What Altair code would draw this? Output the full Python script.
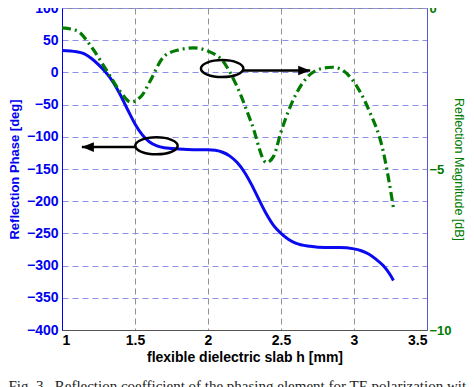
import altair as alt
import pandas as pd

# Blue: reflection phase [deg] vs h [mm]
phase_h = [1.0, 1.1, 1.15, 1.2, 1.25, 1.3, 1.35, 1.4, 1.45, 1.5, 1.55, 1.6, 1.65, 1.7, 1.8, 1.9, 2.0,
           2.05, 2.1, 2.15, 2.2, 2.25, 2.3, 2.35, 2.4, 2.45, 2.5, 2.55, 2.6, 2.7, 2.8, 2.9, 3.0,
           3.05, 3.1, 3.15, 3.2, 3.25, 3.27]
phase_deg = [34, 32, 29, 22, 12, 0, -15, -35, -58, -80, -97, -108, -114, -117, -119, -120, -120,
             -121, -124, -130, -140, -155, -175, -198, -220, -238, -250, -259, -265, -270, -272, -272, -274,
             -277, -282, -290, -300, -315, -323]

# Green: reflection magnitude [dB] vs h [mm]
mag_h = [1.0, 1.1, 1.2, 1.3, 1.4, 1.47, 1.55, 1.6, 1.7, 1.8, 1.9, 2.0, 2.1, 2.2, 2.3, 2.4, 2.45,
         2.5, 2.6, 2.7, 2.8, 2.85, 2.9, 3.0, 3.1, 3.2, 3.27]
mag_db = [-0.62, -0.7, -1.2, -1.9, -2.6, -2.92, -2.7, -2.3, -1.5, -1.3, -1.24, -1.34, -1.64, -2.45,
          -3.6, -4.8, -4.6, -3.85, -2.7, -2.06, -1.86, -1.84, -1.88, -2.3, -3.15, -4.45, -6.2]

# Annotations (data coordinates, left axis)
ellipse_h = [1.647, 2.097]
ellipse_deg = [-114, 6]
arrow_from = [1.51, 2.24]
arrow_to = [1.136, 2.70]
arrow_deg = [-116, 3]
arrow_dir = ["left", "right"]

x_ticks = [1, 1.5, 2, 2.5, 3, 3.5]
left_ticks = list(range(-400, 101, 50))
right_ticks = [-10, -5, 0]

BLUE = "#0000ee"
GREEN = "#007a00"
FONT = "Liberation Sans"

phase_df = pd.DataFrame({"h": phase_h, "deg": phase_deg})
mag_df = pd.DataFrame({"h": mag_h, "db": mag_db})
ell_df = pd.DataFrame({"h": ellipse_h, "deg": ellipse_deg})
arr_df = pd.DataFrame({"h": arrow_from, "h2": arrow_to, "deg": arrow_deg, "dir": arrow_dir})

xscale = alt.Scale(domain=[1, 3.5], nice=False)
xaxis = alt.Axis(values=x_ticks, format="~g", title="flexible dielectric slab h [mm]",
                 grid=True, gridDash=[6, 4], gridColor="#777777", gridOpacity=0.8,
                 ticks=False, labelFont=FONT, labelFontSize=14, labelFontWeight="bold",
                 labelColor="black", titleFont=FONT, titleFontSize=14, titleFontWeight="bold",
                 titleColor="black", domainColor="#555555", labelPadding=3, titlePadding=3)
yscale_left = alt.Scale(domain=[-400, 100], nice=False)
yaxis_left = alt.Axis(values=left_ticks, title="Reflection Phase [deg]", orient="left",
                      grid=True, gridDash=[6, 4], gridColor="#8f8fe8",
                      ticks=False, labelFont=FONT, labelFontSize=14, labelFontWeight="bold",
                      labelColor=BLUE, titleFont=FONT, titleFontSize=13, titleFontWeight="bold",
                      titleColor=BLUE, domainColor=BLUE, labelPadding=4, titlePadding=5)

blue = alt.Chart(phase_df).mark_line(color="#0a0af0", strokeWidth=3, interpolate="monotone").encode(
    x=alt.X("h:Q", scale=xscale, axis=xaxis),
    y=alt.Y("deg:Q", scale=yscale_left, axis=yaxis_left),
)

green = alt.Chart(mag_df).mark_line(color=GREEN, strokeWidth=3.2, strokeDash=[9, 4, 2, 4],
                                    interpolate="monotone").encode(
    x=alt.X("h:Q", scale=xscale),
    y=alt.Y("db:Q", scale=alt.Scale(domain=[-10, 0], nice=False),
            axis=alt.Axis(values=right_ticks, orient="right", title="Reflection Magnitude [dB]",
                          grid=False, ticks=False, labelFont=FONT, labelFontSize=13,
                          labelFontWeight="bold", labelColor=GREEN, titleFont=FONT,
                          titleFontSize=12.5, titleFontWeight="normal", titleColor=GREEN,
                          domainColor="#5555dd", labelPadding=2, titlePadding=0)),
)

ann_y = alt.Y("deg:Q", scale=yscale_left, axis=None)
ellipse_shape = "M-1,0 A1,0.4 0 1,0 1,0 A1,0.4 0 1,0 -1,0 Z"
ellipses = alt.Chart(ell_df).mark_point(shape=ellipse_shape, size=1800, filled=False,
                                        stroke="black", strokeWidth=2.5, opacity=1).encode(
    x=alt.X("h:Q", scale=xscale), y=ann_y)
shafts = alt.Chart(arr_df).mark_rule(color="black", strokeWidth=2.5).encode(
    x=alt.X("h:Q", scale=xscale), x2="h2:Q", y=ann_y)
head_left = alt.Chart(arr_df).transform_filter("datum.dir == 'left'").mark_point(
    shape="M0,0 L2,-0.8 L2,0.8 Z", size=144, filled=True, color="black", opacity=1).encode(
    x=alt.X("h2:Q", scale=xscale), y=ann_y)
head_right = alt.Chart(arr_df).transform_filter("datum.dir == 'right'").mark_point(
    shape="M0,0 L-2,-0.8 L-2,0.8 Z", size=144, filled=True, color="black", opacity=1).encode(
    x=alt.X("h2:Q", scale=xscale), y=ann_y)
annotations = alt.layer(shafts, head_left, head_right, ellipses)

chart = alt.layer(blue, green, annotations).resolve_scale(y="independent").properties(
    width=365, height=322,
    autosize=alt.AutoSizeParams(type="none"),
    padding={"left": 54, "top": 0, "right": 39, "bottom": 57},
    title=alt.TitleParams(
        "Fig. 3.\u00a0\u00a0Reflection coefficient of the phasing element for TE polarization with",
        orient="bottom", anchor="start", frame="bounds", font="Liberation Serif",
        fontSize=15, fontWeight="normal", color="#222222", offset=15),
).configure_view(stroke="#888888", strokeWidth=1)

chart.save("out.html", embed_options={"renderer": "svg", "actions": False})
